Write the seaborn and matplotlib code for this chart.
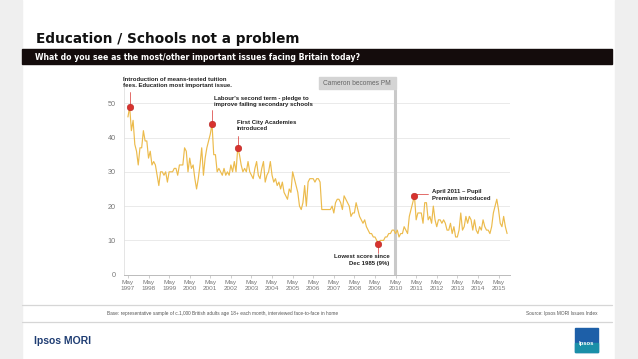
import numpy as np
import pandas as pd
import seaborn as sns
import matplotlib.pyplot as plt
from matplotlib.patches import Rectangle

# ── Data (monthly %, May 1997 onward) ─────────────────────────────────────────
values = [
    46, 49, 42, 45, 38, 36, 32, 37, 37, 42, 39, 39,   # May97-Apr98
    34, 36, 32, 33, 32, 29, 26, 30, 30, 29, 30, 27,   # May98-Apr99
    30, 30, 30, 31, 31, 29, 32, 32, 32, 37, 36, 30,   # May99-Apr00
    34, 31, 32, 28, 25, 28, 32, 37, 29, 34, 37, 39,   # May00-Apr01
    41, 44, 35, 35, 30, 31, 30, 29, 31, 29, 30, 29,   # May01-Apr02
    32, 30, 33, 30, 37, 35, 32, 30, 31, 30, 33, 30,   # May02-Apr03
    29, 28, 31, 33, 29, 28, 31, 33, 27, 29, 30, 33,   # May03-Apr04
    29, 27, 28, 26, 27, 25, 27, 24, 23, 22, 25, 24,   # May04-Apr05
    30, 28, 26, 24, 20, 19, 21, 26, 20, 27, 28, 28,   # May05-Apr06
    28, 27, 28, 28, 27, 19, 19, 19, 19, 19, 19, 20,   # May06-Apr07
    18, 21, 22, 22, 21, 19, 23, 22, 21, 20, 17, 18,   # May07-Apr08
    18, 21, 19, 17, 16, 15, 16, 14, 13, 12, 12, 11,   # May08-Apr09
    11, 10, 9, 10, 10, 10, 11, 11, 12, 12, 13, 13,    # May09-Apr10
    12, 13, 11, 12, 12, 14, 13, 12, 17, 19, 21, 23,   # May10-Apr11
    16, 18, 18, 18, 15, 21, 21, 16, 17, 15, 20, 16,   # May11-Apr12
    14, 16, 16, 15, 16, 15, 13, 13, 15, 12, 14, 11,   # May12-Apr13
    11, 13, 18, 13, 14, 17, 15, 17, 16, 13, 16, 13,   # May13-Apr14
    12, 14, 13, 16, 14, 13, 13, 12, 14, 18, 20, 22,   # May14-Apr15
    19, 15, 14, 17, 14, 12,                           # May15-Oct15
]
START = "1997-05"
tick_years = list(range(1997, 2016))
tick_labels = [f"May\n{y}" for y in tick_years]
y_ticks = [0, 10, 20, 30, 40, 50]

event_dates = ["1997-06", "2001-06", "2002-09", "2009-07", "2011-04"]
event_texts = [
    "Introduction of means-tested tuition\nfees. Education most important issue.",
    "Labour's second term - pledge to\nimprove failing secondary schools",
    "First City Academies\nintroduced",
    "Lowest score since\nDec 1985 (9%)",
    "April 2011 \u2013 Pupil\nPremium introduced",
]
pm_date = "2010-05"
pm_text = "Cameron becomes PM"

base_text = ("Base: representative sample of c.1,000 British adults age 18+ each month, "
             "interviewed face-to-face in home")
source_text = "Source: Ipsos MORI Issues Index"

# ── Frame ──────────────────────────────────────────────────────────────────────
df = pd.DataFrame({"month": np.arange(len(values)), "pct": values})
start_p = pd.Period(START, freq="M")


def midx(s):
    return (pd.Period(s, freq="M") - start_p).n


sns.set_theme(style="white")
plt.rcParams["font.family"] = ["Liberation Sans", "DejaVu Sans"]

W, H = 638, 359
fig = plt.figure(figsize=(W / 100, H / 100), dpi=100)
fig.patch.set_facecolor("white")

# side strips
fig.patches.append(Rectangle((0, 0), 22 / W, 1, transform=fig.transFigure,
                             color="#efefef", zorder=0))
fig.patches.append(Rectangle((615 / W, 0), 1 - 615 / W, 1, transform=fig.transFigure,
                             color="#efefef", zorder=0))

# title + question bar
fig.text(36 / W, 1 - 43 / H, "Education / Schools not a problem", fontsize=9.8,
         fontweight="bold", color="#111111", family="DejaVu Sans", va="baseline")
fig.patches.append(Rectangle((22 / W, 1 - 64.3 / H), (612 - 22) / W, 15 / H,
                             transform=fig.transFigure, color="#140c0c", zorder=1))
fig.text(35 / W, 1 - 57 / H,
         "What do you see as the most/other important issues facing Britain today?",
         fontsize=5.6, fontweight="bold", color="white", va="center",
         family="DejaVu Sans")

# ── Chart ──────────────────────────────────────────────────────────────────────
ax = fig.add_axes([124 / W, 1 - 274.7 / H, 386 / W, 198.9 / H])
ax.set_facecolor("none")
sns.lineplot(data=df, x="month", y="pct", ax=ax, color="#ecbb4c", linewidth=0.85,
             zorder=3)

ax.set_xlim(-2.3, 222.7)
ax.set_ylim(0, 58)
ax.set_yticks(y_ticks)
ax.set_yticklabels([str(v) for v in y_ticks], fontsize=5.2, color="#777777")
ax.set_xticks([midx(f"{y}-05") for y in tick_years])
ax.set_xticklabels(tick_labels, fontsize=4.6, color="#777777", linespacing=1.25)
ax.set_xlabel("")
ax.set_ylabel("")
for v in y_ticks[1:]:
    ax.axhline(v, color="#e6e6e6", linewidth=0.6, zorder=1)
for s in ["top", "right"]:
    ax.spines[s].set_visible(False)
ax.spines["left"].set_color("#e0e0e0")
ax.spines["left"].set_linewidth(0.6)
ax.spines["bottom"].set_color("#bbbbbb")
ax.spines["bottom"].set_linewidth(0.7)
ax.tick_params(axis="x", length=2, width=0.5, color="#bbbbbb", pad=1.5, bottom=True)
ax.tick_params(axis="y", length=0, pad=6)

# Cameron marker
pm_x = midx(pm_date) - 0.3
ax.plot([pm_x, pm_x], [0, 54.1], color="#c9c9c9", linewidth=2.2, zorder=2,
        solid_capstyle="butt")
ax.add_patch(Rectangle((111.4, 54.05), pm_x + 0.8 - 111.4, 3.5, color="#d4d4d4",
                       clip_on=False, zorder=2))
ax.text((111.4 + pm_x) / 2, 55.8, pm_text, fontsize=4.8, color="#666666",
        ha="center", va="center", zorder=3)

# events: dots, leaders, labels
ev_x = [midx(d) for d in event_dates]
ev_y = [values[i] for i in ev_x]
red = "#d8322e"
txt_kw = dict(fontsize=4.3, fontweight="bold", color="#222222", linespacing=1.3,
              zorder=5, clip_on=False)

ax.plot([ev_x[0], ev_x[0]], [ev_y[0], 53.3], color=red, lw=0.5, zorder=4, clip_on=False)
ax.text(-2.8, 57.6, event_texts[0], ha="left", va="top", **txt_kw)

ax.plot([ev_x[1], ev_x[1]], [ev_y[1], 48.0], color=red, lw=0.5, zorder=4)
ax.text(50.1, 52.1, event_texts[1], ha="left", va="top", **txt_kw)

ax.plot([ev_x[2], ev_x[2]], [ev_y[2], 40.5], color=red, lw=0.5, zorder=4)
ax.text(63.6, 45.1, event_texts[2], ha="left", va="top", **txt_kw)

ax.plot([ev_x[3], ev_x[3]], [ev_y[3], 6.2], color=red, lw=0.5, zorder=4)
ax.text(152.6, 5.9, event_texts[3], ha="right", va="top", **txt_kw)

ax.plot([ev_x[4], 174.8], [23.4, 23.4], color=red, lw=0.5, zorder=4)
ax.text(177, 24.9, event_texts[4], ha="left", va="top", **txt_kw)

sns.scatterplot(x=ev_x, y=ev_y, ax=ax, color=red, s=22, edgecolor="#b52420",
                linewidth=0.4, zorder=6, legend=False)

# ── Footer ─────────────────────────────────────────────────────────────────────
for yy in (305, 322):
    fig.add_artist(plt.Line2D([22 / W, 612 / W], [1 - yy / H, 1 - yy / H],
                              color="#d6d6d6", linewidth=0.9))
fig.text(107 / W, 1 - 314 / H, base_text, fontsize=3.4, color="#555555", va="center")
fig.text(598 / W, 1 - 314 / H, source_text, fontsize=3.4, color="#555555",
         va="center", ha="right")

fig.text(34 / W, 1 - 341.5 / H, "Ipsos MORI", fontsize=7.5, fontweight="bold",
         color="#1f3d73", va="center")
fig.patches.append(Rectangle((575 / W, 1 - 352 / H), 23 / W, 24 / H,
                             transform=fig.transFigure, color="#1d5fa8", zorder=2))
fig.patches.append(Rectangle((575 / W, 1 - 352 / H), 23 / W, 9 / H,
                             transform=fig.transFigure, color="#1a8fa8", zorder=2))
fig.text(586.5 / W, 1 - 343 / H, "Ipsos", fontsize=4.2, fontweight="bold",
         color="white", ha="center", va="center", zorder=3)

fig.savefig("out.png", dpi=100)
